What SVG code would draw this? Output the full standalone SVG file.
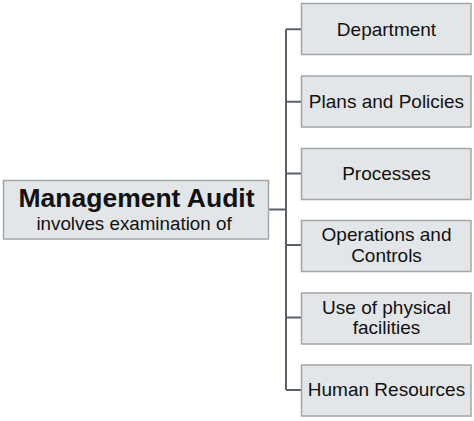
<svg xmlns="http://www.w3.org/2000/svg" width="474" height="421" viewBox="0 0 474 421">
<style>
.box{fill:#e3e6e8;stroke:#a3a6a9;stroke-width:1.5}
.t{font-family:"Liberation Sans",Arial,sans-serif;font-size:19px;fill:#111;text-anchor:middle}
.c{fill:none;stroke:#5b616c;stroke-width:2}
</style>
<rect width="474" height="421" fill="#fff"/>
<g id="connectors">
<path class="c" d="M269,209.5H286M286,29.3V390M286,29.3H301M286,101.7H301M286,173.5H301M286,245H301M286,317.5H301M286,390H301"/>
</g>
<g id="main">
<rect class="box" x="3.5" y="180.5" width="265" height="58.5"/>
<text x="136.5" y="207" style="font-family:'Liberation Sans',Arial,sans-serif;font-size:26.5px;font-weight:bold;fill:#111;text-anchor:middle">Management Audit</text>
<text x="134" y="230" style="font-family:'Liberation Sans',Arial,sans-serif;font-size:18.8px;fill:#111;text-anchor:middle">involves examination of</text>
</g>
<g id="n1"><rect class="box" x="301.5" y="3.5" width="169.5" height="51"/><text class="t" x="386.5" y="35.5">Department</text></g>
<g id="n2"><rect class="box" x="301.5" y="76" width="169.5" height="51"/><text class="t" x="386.5" y="107.5">Plans and Policies</text></g>
<g id="n3"><rect class="box" x="301.5" y="148.5" width="169.5" height="51"/><text class="t" x="386.5" y="179.5">Processes</text></g>
<g id="n4"><rect class="box" x="301.5" y="220.5" width="169.5" height="51"/><text class="t" x="386.5" y="241">Operations and</text><text class="t" x="386.5" y="261.5">Controls</text></g>
<g id="n5"><rect class="box" x="301.5" y="293" width="169.5" height="51"/><text class="t" x="386.5" y="314">Use of physical</text><text class="t" x="386.5" y="334">facilities</text></g>
<g id="n6"><rect class="box" x="301.5" y="365" width="169.5" height="51"/><text class="t" x="386.5" y="396">Human Resources</text></g>
</svg>
